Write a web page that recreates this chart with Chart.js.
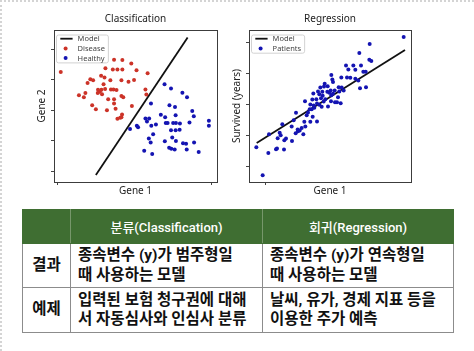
<!DOCTYPE html>
<html>
<head>
<meta charset="utf-8">
<script src="https://cdn.jsdelivr.net/npm/chart.js@4.4.0/dist/chart.umd.min.js"></script>
<style>
  html, body { margin: 0; padding: 0; background: #fff; }
  #page { position: relative; width: 474px; height: 351px; overflow: hidden; background: #fff; }
  #dots { position: absolute; left: 0; top: 0; width: 474px; height: 351px; box-sizing: border-box;
          border-top: 2px dotted #d4d4d4; border-left: 2px dotted #d4d4d4; pointer-events: none; }
  canvas { position: absolute; top: 0; }
  #clsChart { left: 0; }
  #regChart { left: 222px; }
  #cmp { position: absolute; left: 22px; top: 209px; width: 431px; border-collapse: collapse;
         table-layout: fixed; font-family: Roboto, "Noto Sans CJK KR", sans-serif; color: #111; }
  #cmp th { background: #3f6e32; color: #fff; font-size: 13px; font-weight: 500; text-align: center;
            border: 1px solid #3f6e32; border-right-color: #77976b; padding: 0; }
  #cmp th:last-child { border-right-color: #3f6e32; }
  #cmp td { border: 1px solid #8c8c8c; font-size: 15.5px; font-weight: 700; line-height: 19.5px;
            padding: 0 0 0 7px; vertical-align: middle; white-space: nowrap; }
  #cmp td.lab { text-align: center; padding: 0; }
  #cmp tr.head { height: 34px; }
  #cmp tr.r1 { height: 44px; }
  #cmp tr.r2 { height: 45px; }
</style>
</head>
<body>
<div id="page">
  <canvas id="clsChart" width="237" height="200"></canvas>
  <canvas id="regChart" width="252" height="200"></canvas>
  <table id="cmp">
    <colgroup><col style="width:48px"><col style="width:192px"><col style="width:191px"></colgroup>
    <tr class="head"><th></th><th>분류(Classification)</th><th>회귀(Regression)</th></tr>
    <tr class="r1"><td class="lab">결과</td><td>종속변수 (y)가 범주형일<br>때 사용하는 모델</td><td>종속변수 (y)가 연속형일<br>때 사용하는 모델</td></tr>
    <tr class="r2"><td class="lab">예제</td><td>입력된 보험 청구권에 대해<br>서 자동심사와 인심사 분류</td><td>날씨, 유가, 경제 지표 등을<br>이용한 주가 예측</td></tr>
  </table>
  <div id="dots"></div>
</div>
<script>
// classification panel
const diseaseGene1 = [-2.39, -0.66, -0.39, -0.94, -0.70, -0.55, -0.39, -0.10, 0.07, 0.43, -1.08, -0.97, -0.78, -1.43, -1.34, -1.52,
  -1.00, -0.76, -0.68, -0.58, -0.42, -0.19, -0.01, -1.18, -1.07, -1.12, -1.19, -0.95, -1.05, -1.80, -1.64, -1.59,
  -0.85, -0.66, -0.42, -0.36, -1.37, -1.25, -0.89, -0.66, -0.61, -0.08, 0.36, 0.39, -0.40, -0.46, -0.55, -0.42];
const diseaseGene2 = [1.25, 1.65, 1.64, 1.37, 1.33, 1.33, 1.33, 1.53, 1.31, 1.21, 1.13, 1.07, 0.98, 1.01, 0.98, 0.89,
  0.85, 0.68, 0.68, 0.66, 0.98, 0.93, 0.99, 0.67, 0.67, 0.60, 0.56, 0.69, 0.52, 0.49, 0.42, 0.56,
  0.36, 0.36, 0.46, 0.42, 0.16, 0.03, 0.00, 0.22, 0.05, 0.14, 0.68, 0.51, -0.14, -0.25, -0.28, -0.23];
const healthyGene1 = [0.98, 1.19, 1.56, 1.71, 0.54, 1.14, 1.32, 1.88, 1.93, 0.86, 1.00, 1.34, 0.36, 0.48, 0.41, 1.02,
  1.08, 1.26, 1.35, 1.48, 1.79, 0.55, 0.70, 0.08, 0.12, -0.14, 2.42, 2.42, 1.19, 1.34, 1.47, 0.61,
  0.47, 0.53, 1.23, 1.35, 0.99, 1.58, 1.68, 1.94, 1.13, 1.20, 1.31, 1.70, 0.32, 0.58, 2.09];
const healthyGene2 = [0.85, 0.71, 0.57, 0.42, 0.22, 0.16, 0.10, -0.03, -0.20, -0.15, -0.23, -0.17, -0.27, -0.27, -0.37, -0.42,
  -0.42, -0.42, -0.42, -0.44, -0.40, -0.51, -0.47, -0.51, -0.56, -0.62, -0.35, -0.51, -0.66, -0.66, -0.64, -0.79,
  -0.93, -1.06, -0.89, -1.01, -1.02, -1.08, -1.10, -1.06, -1.23, -1.26, -1.29, -1.29, -1.33, -1.43, -1.37];
const clsModelX = [-1.25, 1.73];
const clsModelY = [-2.12, 2.38];
const clsXTicks = [-2.5, 2.5];
const clsYTicks = [-2, -1, 0, 1, 2];

// regression panel
const patientGene1 = [4.14, 3.12, 2.81, 3.11, 3.17, 2.41, 2.63, 2.86, 2.48, 2.69, 2.93, 3.00, 1.97, 2.27, 2.44, 2.54,
  2.69, 2.78, 2.00, 2.02, 1.77, 1.75, 1.64, 1.86, 2.19, 2.28, 2.34, 2.83, 3.01, 1.57, 1.70, 1.85,
  1.95, 2.07, 2.21, 1.43, 1.61, 1.71, 1.91, 1.97, 2.02, 2.17, 2.14, 2.25, 2.08, 1.96, 1.79, 1.66,
  1.52, 1.40, 1.18, 1.34, 1.44, 1.61, 1.74, 1.54, 1.68, 1.87, 1.32, 1.46, 0.91, 1.27, 1.23, 1.41,
  1.54, 1.38, 1.16, 1.34, 0.84, 0.50, 0.78, 0.96, 1.08, 1.19, 1.02, 1.13, 0.90, 0.97, 0.42, 0.45,
  0.61, 0.56, 0.79, 0.36, 0.10, -0.28, 0.08, 0.34, 0.31, 0.55, -0.09];
const patientSurvived = [20.81, 19.68, 18.23, 17.15, 16.94, 16.24, 16.24, 16.24, 15.59, 15.54, 15.22, 15.22, 14.68, 14.30, 14.30, 14.25,
  14.09, 13.82, 13.98, 13.55, 13.28, 12.85, 12.69, 12.90, 12.74, 12.69, 12.20, 12.58, 12.74, 12.04, 11.99, 11.99,
  12.20, 12.20, 12.04, 11.72, 11.61, 11.34, 11.83, 11.45, 11.67, 11.13, 10.32, 10.16, 10.32, 10.48, 10.81, 10.97,
  10.81, 10.75, 10.48, 9.95, 9.78, 9.89, 10.43, 10.11, 9.57, 9.62, 9.19, 9.41, 8.60, 8.66, 8.23, 7.96,
  7.20, 9.19, 7.15, 7.15, 7.42, 6.77, 6.40, 5.91, 6.18, 6.40, 5.75, 5.16, 5.32, 5.65, 5.38, 5.00,
  4.46, 4.19, 4.09, 4.52, 5.16, 3.06, 2.15, 2.85, 2.74, 2.69, -1.45];
const regModelX = [-0.27, 4.18];
const regModelY = [3.76, 18.71];
const regXTicks = [0];
const regYTicks = [0, 5, 10, 15, 20];

const FONT = '"Noto Sans", "DejaVu Sans", sans-serif';
const RED = '#cc3328';
const BLUE = '#1414b2';

const zip = (xs, ys) => xs.map((x, i) => ({x: x, y: ys[i]}));

// box frame on all four sides + matplotlib-like legend in the upper left corner
const frameAndLegend = {
  id: 'frameAndLegend',
  afterDatasetsDraw(chart) {
    const ctx = chart.ctx;
    const a = chart.chartArea;
    ctx.save();
    ctx.strokeStyle = '#3c3c3c';
    ctx.lineWidth = 1;
    ctx.strokeRect(Math.round(a.left) + 0.5, Math.round(a.top) + 0.5,
      Math.round(a.right - a.left), Math.round(a.bottom - a.top));

    const sets = chart.data.datasets;
    ctx.font = '7.5px ' + FONT;
    let tw = 0;
    sets.forEach(d => { tw = Math.max(tw, ctx.measureText(d.label).width); });
    const bx = a.left + 2, by = a.top + 4.5, rowH = 9.7;
    const bw = 21.6 + tw + 3, bh = (sets.length - 1) * rowH + 8.5;
    ctx.beginPath();
    ctx.roundRect(bx + 0.5, by + 0.5, bw, bh, 2);
    ctx.fillStyle = 'rgba(255,255,255,0.85)';
    ctx.fill();
    ctx.strokeStyle = '#d2d2d2';
    ctx.stroke();
    sets.forEach((d, i) => {
      const cy = by + 4.2 + i * rowH;
      if (d.showLine) {
        ctx.beginPath();
        ctx.moveTo(bx + 4.3, cy);
        ctx.lineTo(bx + 16.6, cy);
        ctx.strokeStyle = d.borderColor;
        ctx.lineWidth = 1.8;
        ctx.stroke();
      } else {
        ctx.beginPath();
        ctx.arc(bx + 9.6, cy, 2, 0, Math.PI * 2);
        ctx.fillStyle = d.backgroundColor;
        ctx.fill();
      }
      ctx.fillStyle = '#444';
      ctx.textBaseline = 'middle';
      ctx.fillText(d.label, bx + 21.6, cy + 0.3);
    });
    ctx.restore();
  }
};

const axis = (min, max, ticks, label, titlePad) => ({
  type: 'linear',
  min: min,
  max: max,
  afterBuildTicks: scale => { scale.ticks = ticks.map(v => ({value: v})); },
  ticks: {display: false},
  grid: {drawOnChartArea: false, drawTicks: true, tickLength: 3, color: '#444'},
  border: {display: false},
  title: {display: true, text: label, color: '#222', font: {family: FONT, size: 10}, padding: titlePad}
});

const lineSet = (xs, ys) => ({
  label: 'Model', data: zip(xs, ys), showLine: true, borderColor: '#111', borderWidth: 1.8,
  pointRadius: 0, fill: false, order: 1
});
const dotSet = (label, xs, ys, color) => ({
  label: label, data: zip(xs, ys), backgroundColor: color, borderColor: color, borderWidth: 0,
  pointRadius: 2, order: 0
});

const baseOptions = (title, pad, xAx, yAx) => ({
  responsive: false,
  animation: false,
  layout: {padding: pad},
  plugins: {
    legend: {display: false},
    tooltip: {enabled: false},
    title: {display: true, text: title, fullSize: false, color: '#222',
      font: {family: FONT, size: 10, weight: 'normal'}, padding: {top: 3, bottom: 5}}
  },
  scales: {x: xAx, y: yAx}
});

new Chart(document.getElementById('clsChart'), {
  type: 'scatter',
  data: {
    datasets: [
      lineSet(clsModelX, clsModelY),
      dotSet('Disease', diseaseGene1, diseaseGene2, RED),
      dotSet('Healthy', healthyGene1, healthyGene2, BLUE)
    ]
  },
  options: baseOptions('Classification', {left: 36, right: 20, top: 10, bottom: 3},
    axis(-2.61, 2.684, clsXTicks, 'Gene 1', {top: 0, bottom: 0}),
    axis(-2.35, 2.623, clsYTicks, 'Gene 2', {top: 0, bottom: 3})),
  plugins: [frameAndLegend]
});

new Chart(document.getElementById('regChart'), {
  type: 'scatter',
  data: {
    datasets: [
      lineSet(regModelX, regModelY),
      dotSet('Patients', patientGene1, patientSurvived, BLUE)
    ]
  },
  options: baseOptions('Regression', {left: 9.5, right: 63, top: 10, bottom: 3},
    axis(-0.5, 4.36, regXTicks, 'Gene 1', {top: 0, bottom: 0}),
    axis(-2.53, 21.94, regYTicks, 'Survived (years)', {top: 0, bottom: 2.5})),
  plugins: [frameAndLegend]
});
</script>
</body>
</html>
